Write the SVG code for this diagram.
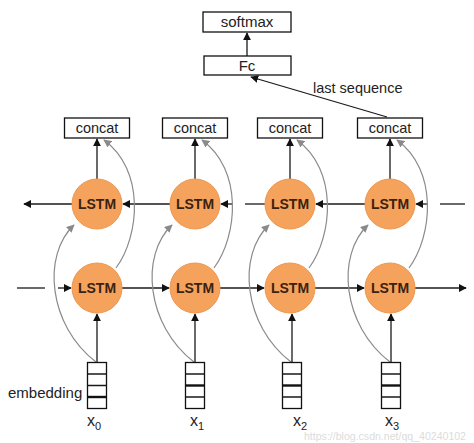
<svg xmlns="http://www.w3.org/2000/svg" width="474" height="443" viewBox="0 0 474 443">
<defs>
<style>
.box{fill:#fff;stroke:#111;stroke-width:1.3}
.t{font-family:"Liberation Sans",Arial,sans-serif;fill:#222}
.lstm{fill:#F5A25C;stroke:#EE974E;stroke-width:1}
.lt{font-family:"Liberation Sans",Arial,sans-serif;font-weight:bold;font-size:14px;fill:#3a2212;text-anchor:middle}
.ln{stroke:#1a1a1a;stroke-width:1.3;fill:none}
.gr{stroke:#8a8a8a;stroke-width:1.2;fill:none}
.emb{fill:#fff;stroke:#111;stroke-width:1.3}
</style>
<marker id="ah" viewBox="0 0 10 10" refX="9" refY="5" markerWidth="8" markerHeight="8" markerUnits="userSpaceOnUse" orient="auto"><path d="M0,0 L10,5 L0,10 z" fill="#111"/></marker>
<marker id="ag" viewBox="0 0 10 10" refX="9" refY="5" markerWidth="8" markerHeight="8" markerUnits="userSpaceOnUse" orient="auto"><path d="M0,0 L10,5 L0,10 z" fill="#8a8a8a"/></marker>
</defs>
<rect width="474" height="443" fill="#fff"/>

<g id="connectors">
<line class="ln" x1="247" y1="56" x2="247" y2="33" marker-end="url(#ah)"/>
<line class="ln" x1="387" y1="117" x2="251" y2="77" marker-end="url(#ah)"/>
<line class="ln" x1="72" y1="204" x2="24" y2="204" marker-end="url(#ah)"/>
<line class="ln" x1="170" y1="204" x2="123" y2="204" marker-end="url(#ah)"/>
<line class="ln" x1="232" y1="204" x2="221" y2="204" marker-end="url(#ah)"/>
<line class="ln" x1="245" y1="204" x2="265" y2="204"/>
<line class="ln" x1="365" y1="204" x2="316" y2="204" marker-end="url(#ah)"/>
<line class="ln" x1="428" y1="204" x2="416" y2="204" marker-end="url(#ah)"/>
<line class="ln" x1="440" y1="204" x2="465" y2="204"/>
<line class="ln" x1="17" y1="288" x2="45" y2="288"/>
<line class="ln" x1="58" y1="288" x2="71" y2="288" marker-end="url(#ah)"/>
<line class="ln" x1="122" y1="288" x2="169" y2="288" marker-end="url(#ah)"/>
<line class="ln" x1="220" y1="288" x2="264" y2="288" marker-end="url(#ah)"/>
<line class="ln" x1="315" y1="288" x2="364" y2="288" marker-end="url(#ah)"/>
<line class="ln" x1="415" y1="288" x2="466" y2="288" marker-end="url(#ah)"/>
<line class="ln" x1="97" y1="179" x2="97" y2="139" marker-end="url(#ah)"/>
<line class="ln" x1="195" y1="179" x2="195" y2="139" marker-end="url(#ah)"/>
<line class="ln" x1="290" y1="179" x2="290" y2="139" marker-end="url(#ah)"/>
<line class="ln" x1="390" y1="179" x2="390" y2="139" marker-end="url(#ah)"/>
<line class="ln" x1="97" y1="362" x2="97" y2="314" marker-end="url(#ah)"/>
<line class="ln" x1="195" y1="362" x2="195" y2="314" marker-end="url(#ah)"/>
<line class="ln" x1="292" y1="362" x2="292" y2="314" marker-end="url(#ah)"/>
<line class="ln" x1="391" y1="362" x2="391" y2="314" marker-end="url(#ah)"/>
<path class="gr" d="M96,362 C48,325 42,255 74,225" marker-end="url(#ag)"/>
<path class="gr" d="M194,362 C146,325 140,255 172,225" marker-end="url(#ag)"/>
<path class="gr" d="M291,362 C243,325 237,255 269,225" marker-end="url(#ag)"/>
<path class="gr" d="M390,362 C342,325 336,255 368,225" marker-end="url(#ag)"/>
<path class="gr" d="M116,268 C140,235 145,170 104,140" marker-end="url(#ag)"/>
<path class="gr" d="M214,268 C238,235 243,170 202,140" marker-end="url(#ag)"/>
<path class="gr" d="M309,268 C333,235 338,170 297,140" marker-end="url(#ag)"/>
<path class="gr" d="M409,268 C433,235 438,170 397,140" marker-end="url(#ag)"/>
</g>

<g id="softmax"><rect class="box" x="203" y="12" width="88" height="20"/><text class="t" x="247" y="27" font-size="15" text-anchor="middle">softmax</text></g>
<g id="fc"><rect class="box" x="204" y="56" width="87" height="19"/><text class="t" x="247" y="71" font-size="15" text-anchor="middle">Fc</text></g>
<text class="t" x="313" y="93" font-size="14.5">last sequence</text>

<g id="concat0"><rect class="box" x="64.5" y="118" width="65" height="20"/><text class="t" x="97" y="133" font-size="14.5" text-anchor="middle">concat</text></g>
<g id="concat1"><rect class="box" x="162.5" y="118" width="65" height="20"/><text class="t" x="195" y="133" font-size="14.5" text-anchor="middle">concat</text></g>
<g id="concat2"><rect class="box" x="257.5" y="118" width="65" height="20"/><text class="t" x="290" y="133" font-size="14.5" text-anchor="middle">concat</text></g>
<g id="concat3"><rect class="box" x="357.5" y="118" width="65" height="20"/><text class="t" x="390" y="133" font-size="14.5" text-anchor="middle">concat</text></g>

<g id="lstm_b0"><circle class="lstm" cx="97" cy="204" r="25"/><text class="lt" x="97" y="209">LSTM</text></g>
<g id="lstm_b1"><circle class="lstm" cx="195" cy="204" r="25"/><text class="lt" x="195" y="209">LSTM</text></g>
<g id="lstm_b2"><circle class="lstm" cx="290" cy="204" r="25"/><text class="lt" x="290" y="209">LSTM</text></g>
<g id="lstm_b3"><circle class="lstm" cx="390" cy="204" r="25"/><text class="lt" x="390" y="209">LSTM</text></g>
<g id="lstm_f0"><circle class="lstm" cx="97" cy="288" r="25"/><text class="lt" x="97" y="293">LSTM</text></g>
<g id="lstm_f1"><circle class="lstm" cx="195" cy="288" r="25"/><text class="lt" x="195" y="293">LSTM</text></g>
<g id="lstm_f2"><circle class="lstm" cx="290" cy="288" r="25"/><text class="lt" x="290" y="293">LSTM</text></g>
<g id="lstm_f3"><circle class="lstm" cx="390" cy="288" r="25"/><text class="lt" x="390" y="293">LSTM</text></g>

<g id="emb0"><rect class="emb" x="87.5" y="362.5" width="19" height="46"/><path d="M87.5,374 h19 M87.5,385.5 h19" class="ln"/><path d="M87.5,397 h19" stroke="#111" stroke-width="2.4"/></g>
<g id="emb1"><rect class="emb" x="185.5" y="362.5" width="19" height="46"/><path d="M185.5,374 h19 M185.5,397 h19" class="ln"/><path d="M185.5,385.5 h19" stroke="#111" stroke-width="2.4"/></g>
<g id="emb2"><rect class="emb" x="282.5" y="362.5" width="19" height="46"/><path d="M282.5,374 h19 M282.5,397 h19" class="ln"/><path d="M282.5,385.5 h19" stroke="#111" stroke-width="2.4"/></g>
<g id="emb3"><rect class="emb" x="381.5" y="362.5" width="19" height="46"/><path d="M381.5,374 h19 M381.5,397 h19" class="ln"/><path d="M381.5,385.5 h19" stroke="#111" stroke-width="2.4"/></g>

<text class="t" x="8" y="398" font-size="15">embedding</text>
<text class="t" x="87" y="426" font-size="16">x<tspan font-size="11" dy="4">0</tspan></text>
<text class="t" x="190" y="426" font-size="16">x<tspan font-size="11" dy="4">1</tspan></text>
<text class="t" x="293" y="426" font-size="16">x<tspan font-size="11" dy="4">2</tspan></text>
<text class="t" x="385" y="426" font-size="16">x<tspan font-size="11" dy="4">3</tspan></text>
<text x="304" y="440" font-family="Liberation Sans,Arial,sans-serif" font-size="10" fill="#dcdcdc" textLength="162" lengthAdjust="spacingAndGlyphs">https://blog.csdn.net/qq_40240102</text>
</svg>
